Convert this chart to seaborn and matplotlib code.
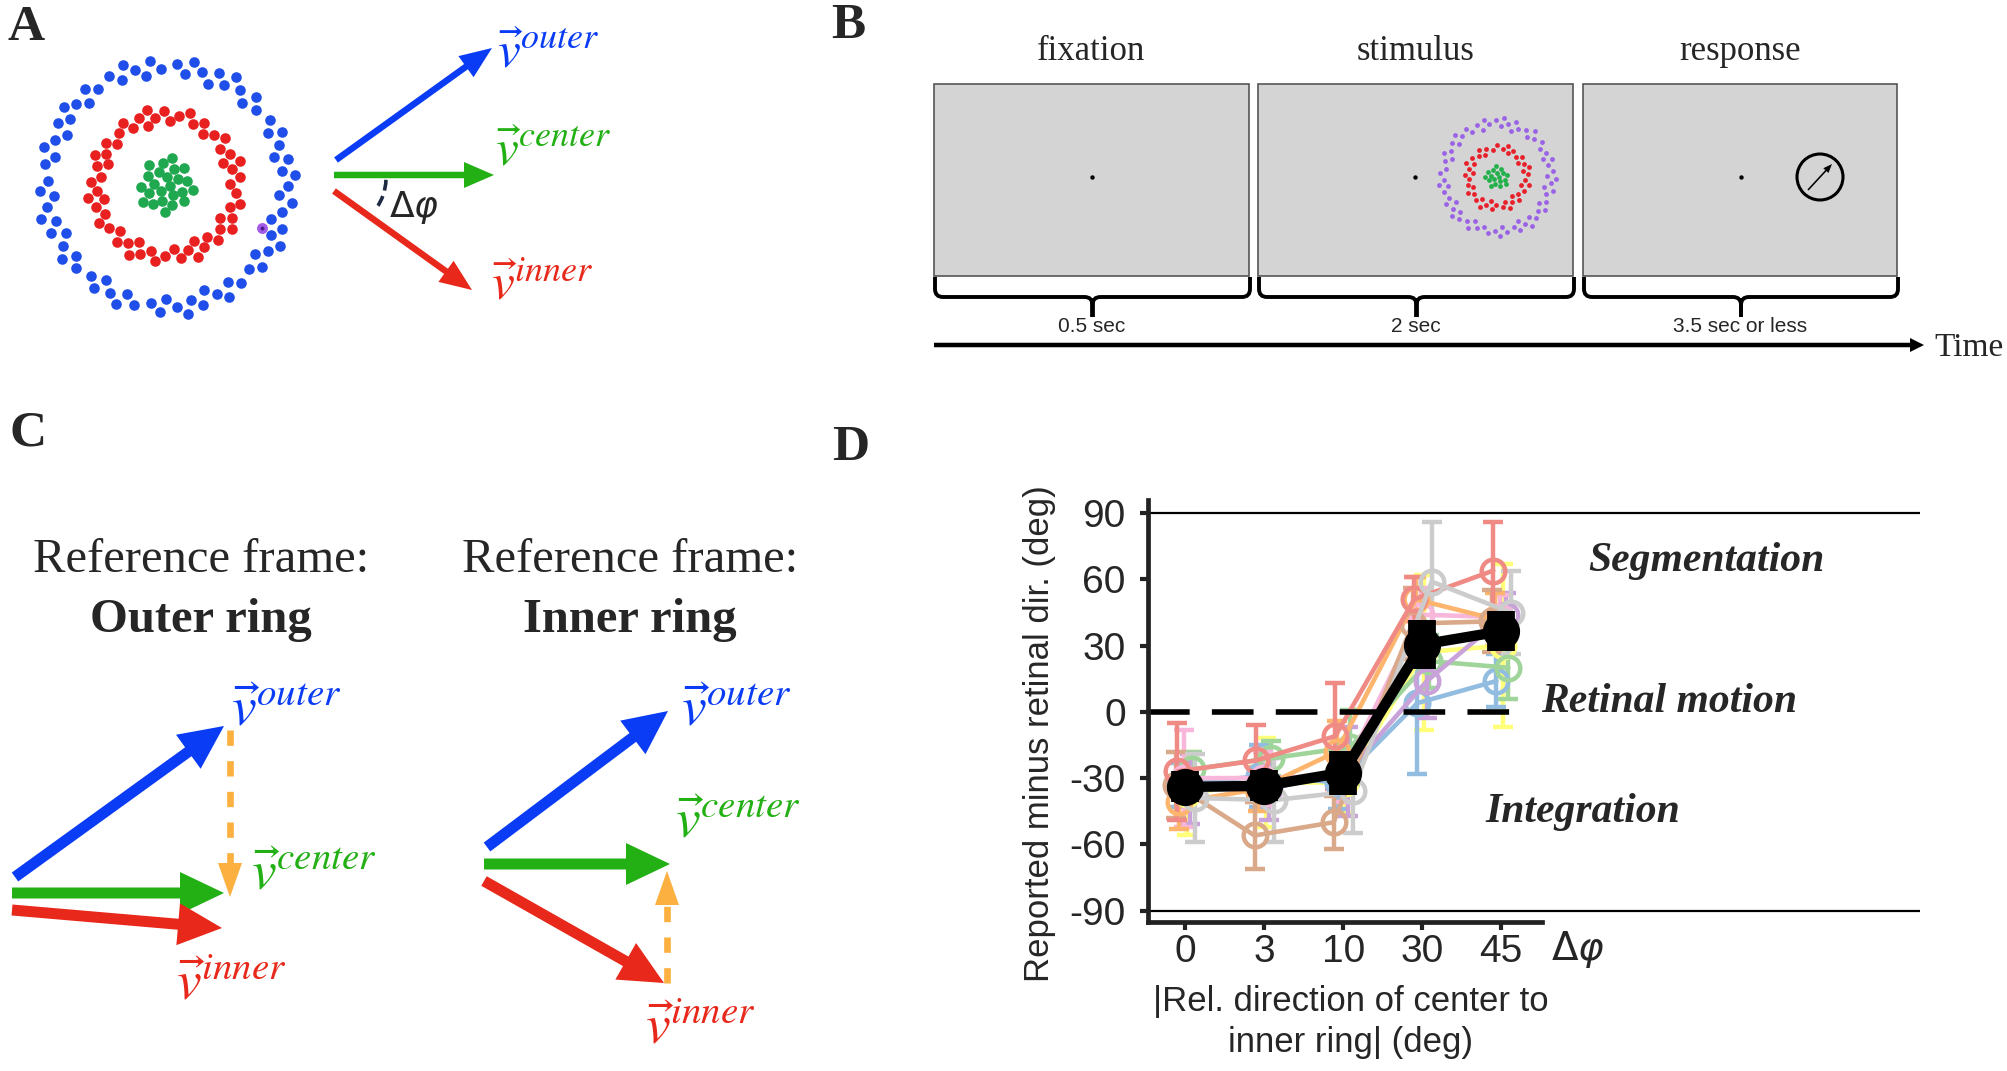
import numpy as np
import pandas as pd
import matplotlib
matplotlib.use('Agg')
import matplotlib.pyplot as plt
import matplotlib.patches as patches
from matplotlib.path import Path
import seaborn as sns

# ---- data for panel D ----
deltas = ['0', '3', '10', '30', '45']
mean_all = [-34, -33.5, -27.5, 30.5, 36.5]
sem_all = [7, 7, 10, 11, 9]

s_tan = [-33, -56, -50, 40, 41]
e_tan = [15, 15, 12, 16, 14]
s_red = [-27, -22, -11, 51, 64]
e_red = [22, 16, 24, 10, 22]
s_orange = [-41, -35, -18, 51, 42]
e_orange = [12, 10, 14, 10, 12]
s_blue = [-33, -29, -32, 4, 14]
e_blue = [10, 14, 12, 32, 12]
s_pink = [-30, -30, -29, 44, 43]
e_pink = [22, 12, 12, 12, 10]
s_yellow = [-37, -32, -32, 27, 30]
e_yellow = [19, 20, 14, 35, 37]
s_purple = [-35, -35, -27, 14, 44]
e_purple = [16, 14, 20, 17, 10]
s_green = [-26, -21, -16, 23, 20]
e_green = [8, 8, 17, 12, 14]
s_gray = [-39, -40, -36, 59, 45]
e_gray = [20, 19, 19, 27, 19]

# ---- text of the diagrams ----
phase_titles = ['fixation', 'stimulus', 'response']
phase_durations = ['0.5 sec', '2 sec', '3.5 sec or less']
regime_labels = ['Segmentation', 'Retinal motion', 'Integration']

sns.set_style('ticks')
plt.rcParams['font.family'] = ['Liberation Sans', 'DejaVu Sans']
plt.rcParams['mathtext.fontset'] = 'stix'
SERIF = ['Liberation Serif', 'DejaVu Serif']

BLUE, GREEN, RED, ORANGE = '#0A3CF5', '#22B014', '#E8281A', '#FBB040'

W, H = 2008, 1071
fig = plt.figure(figsize=(W / 100, H / 100), dpi=100)
bg = fig.add_axes([0, 0, 1, 1])
bg.set_xlim(0, W)
bg.set_ylim(H, 0)
bg.axis('off')


def arrow(ax, p0, p1, color, w, hw, hl):
    ax.arrow(p0[0], p0[1], p1[0] - p0[0], p1[1] - p0[1], width=w, head_width=hw,
             head_length=hl, length_includes_head=True, color=color, lw=0)


def dashed_arrow(ax, p0, p1, color, lw, hw, hl):
    p0, p1 = np.array(p0, float), np.array(p1, float)
    d = (p1 - p0) / np.linalg.norm(p1 - p0)
    n = np.array([-d[1], d[0]])
    base = p1 - d * hl
    ax.plot([p0[0], base[0]], [p0[1], base[1]], color=color, lw=lw,
            ls=(0, (2.3, 2.3)), solid_capstyle='butt')
    ax.add_patch(patches.Polygon([p1, base + n * hw / 2, base - n * hw / 2],
                                 closed=True, color=color, lw=0))


def ring_xy(n, r_in, r_out, phase):
    i = np.arange(n)
    r = np.sqrt(r_in ** 2 + (r_out ** 2 - r_in ** 2) * (i + 0.5) / n)
    t = i * 2.39996 + phase
    return r * np.cos(t), r * np.sin(t)


def brace(ax, x0, x1, y0, yb, yt, r=8):
    xc = (x0 + x1) / 2
    verts, codes = [], []
    for xs, sg in ((x0, 1), (x1, -1)):
        verts += [(xs, y0), (xs, yb - r), (xs, yb), (xs + sg * r, yb),
                  (xc - sg * r, yb), (xc, yb), (xc, yb + r), (xc, yt)]
        codes += [Path.MOVETO, Path.LINETO, Path.CURVE3, Path.CURVE3,
                  Path.LINETO, Path.CURVE3, Path.CURVE3, Path.LINETO]
    ax.add_patch(patches.PathPatch(Path(verts, codes), fill=False, lw=2.8,
                                   edgecolor='black'))


# panel letters
for lab, x, y in [('A', 8, 28), ('B', 831, 26), ('C', 10, 433), ('D', 832, 448)]:
    bg.text(x, y, lab, family=SERIF, weight='bold', size=37, ha='left', va='center')

# ---- Panel A ----
cx, cy = 166, 186
for (n, r0, r1, ph), col in [((82, 110, 130, 0.3), '#1F4FE8'),
                             ((62, 61, 79, 1.1), '#E82020'),
                             ((24, 0, 29, 0.0), '#1FA84F')]:
    dx, dy = ring_xy(n, r0, r1, ph)
    bg.scatter(cx + dx, cy + dy, s=58, color=col, lw=0)
bg.scatter([262], [228], s=62, color='#A35BE8', lw=0)
bg.scatter([262], [228], s=8, color='#4B1E8E', lw=0)

arrow(bg, (336, 160), (492, 48), BLUE, 6.5, 26, 32)
arrow(bg, (334, 175), (494, 175), GREEN, 6.5, 26, 30)
arrow(bg, (334, 191), (472, 290), RED, 6.5, 26, 32)
bg.text(548, 54, r'$\vec{v}^{outer}$', color=BLUE, size=37, ha='center', va='center')
bg.text(553, 152, r'$\vec{v}^{center}$', color=GREEN, size=37, ha='center', va='center')
bg.text(542, 286, r'$\vec{v}^{inner}$', color=RED, size=37, ha='center', va='center')
bg.add_patch(patches.Arc((334, 178), 104, 104, theta1=2, theta2=36,
                         ls=(0, (3, 1.6)), lw=2.6, color='#1E2A44'))
bg.text(414, 207, r'$\Delta\varphi$', size=26, math_fontfamily='dejavusans',
        ha='center', va='center')

# ---- Panel B ----
boxes = [(934, 1249), (1258, 1573), (1583, 1897)]
for (x0, x1), title, dur in zip(boxes, phase_titles, phase_durations):
    bg.add_patch(patches.Rectangle((x0, 84), x1 - x0, 192, facecolor='#D4D4D4',
                                   edgecolor='#555555', lw=1.2))
    xc = (x0 + x1) / 2
    bg.text(xc, 52, title, family=SERIF, size=25, ha='center', va='center')
    brace(bg, x0 + 1, x1 + 1, 277, 297, 317)
    bg.text(xc, 327, dur, size=15, ha='center', va='center')
for xc in [1092, 1415, 1741]:
    bg.scatter([xc], [177], s=10, color='black', lw=0)

scx, scy = 1497, 177
for (n, r0, r1, ph), col in [((72, 48, 60, 0.2), '#9A63E6'),
                             ((46, 24, 34, 0.9), '#E8202A'),
                             ((18, 0, 12, 0.0), '#22B04B')]:
    dx, dy = ring_xy(n, r0, r1, ph)
    bg.scatter(scx + dx, scy + dy, s=12, color=col, lw=0)
bg.add_patch(patches.Circle((1820, 177), 23, fill=False, lw=2.2, edgecolor='black'))
arrow(bg, (1808, 190), (1832, 164), 'black', 1.6, 7, 9)

arrow(bg, (934, 345), (1924, 345), 'black', 4.5, 14, 14)
bg.text(1934, 348, 'Time', family=SERIF, size=24, ha='left', va='center')

# ---- Panel C ----
for xc, ring in [(201, 'Outer ring'), (630, 'Inner ring')]:
    bg.text(xc, 560, 'Reference frame:', family=SERIF, size=35, ha='center', va='center')
    bg.text(xc, 620, ring, family=SERIF, weight='bold', size=35, ha='center', va='center')

arrow(bg, (15, 877), (224, 726), BLUE, 11, 42, 44)
arrow(bg, (12, 893), (224, 893), GREEN, 11, 42, 44)
arrow(bg, (12, 910), (222, 928), RED, 11, 42, 44)
dashed_arrow(bg, (230, 730), (230, 897), ORANGE, 4.8, 24, 34)
bg.text(286, 711, r'$\vec{v}^{outer}$', color=BLUE, size=40, ha='center', va='center')
bg.text(314, 875, r'$\vec{v}^{center}$', color=GREEN, size=40, ha='center', va='center')
bg.text(231, 985, r'$\vec{v}^{inner}$', color=RED, size=40, ha='center', va='center')

arrow(bg, (487, 847), (668, 711), BLUE, 11, 42, 44)
arrow(bg, (484, 864), (670, 864), GREEN, 11, 42, 44)
arrow(bg, (484, 881), (664, 983), RED, 11, 42, 44)
dashed_arrow(bg, (667, 983), (667, 871), ORANGE, 4.8, 24, 34)
bg.text(736, 711, r'$\vec{v}^{outer}$', color=BLUE, size=40, ha='center', va='center')
bg.text(738, 823, r'$\vec{v}^{center}$', color=GREEN, size=40, ha='center', va='center')
bg.text(700, 1030, r'$\vec{v}^{inner}$', color=RED, size=40, ha='center', va='center')

# ---- Panel D ----
ax = fig.add_axes([0.5717, 0.1395, 0.3845, 0.3937])
ax.patch.set_alpha(0)
ax.set_xlim(-0.47, 9.3)
ax.set_ylim(-95, 96)

pos = np.arange(len(deltas))
subjects = [
    (s_yellow, e_yellow, '#FFFF7A', 0.02),
    (s_blue, e_blue, '#93BDE0', -0.06),
    (s_green, e_green, '#9FD49A', 0.09),
    (s_purple, e_purple, '#C8A2D8', 0.06),
    (s_pink, e_pink, '#F7B6DA', -0.02),
    (s_orange, e_orange, '#FDB46C', -0.08),
    (s_tan, e_tan, '#D9A98A', -0.12),
    (s_red, e_red, '#F08A84', -0.10),
    (s_gray, e_gray, '#CCCCCC', 0.12),
]
for vals, errs, col, off in subjects:
    ax.errorbar(pos + off, vals, yerr=errs, color=col, marker='o', mfc='none',
                ms=17, mew=3.2, lw=3.3, elinewidth=3.2, capsize=7.5, capthick=3.6,
                zorder=2)

ax.plot([-0.47, 4.17], [0, 0], color='black', lw=4, ls=(0, (7.5, 4)), zorder=2.5)
ax.axhline(90, color='black', lw=1.6, zorder=1)
ax.axhline(-90, color='black', lw=1.6, zorder=1)

ax.errorbar(pos, mean_all, yerr=sem_all, fmt='none', ecolor='black',
            elinewidth=20, capsize=0, zorder=5)
df_mean = pd.DataFrame({'pos': pos, 'mean': mean_all})
sns.lineplot(data=df_mean, x='pos', y='mean', color='black', lw=7.5, marker='o',
             markersize=26, markeredgecolor='black', ax=ax, zorder=6)

ax.set_xticks(pos)
ax.set_xticklabels(deltas)
ax.set_yticks([-90, -60, -30, 0, 30, 60, 90])
ax.set_yticklabels(['-90', '-60', '-30', '0', '30', '60', '90'])
ax.set_xlabel('')
ax.set_ylabel('')
ax.tick_params(axis='both', width=3, length=6, labelsize=28, color='#222222')
ax.tick_params(axis='x', pad=3)
ax.tick_params(axis='y', pad=10)
for side in ['top', 'right']:
    ax.spines[side].set_visible(False)
for side in ['left', 'bottom']:
    ax.spines[side].set_linewidth(3.4)
    ax.spines[side].set_color('#222222')
ax.spines['bottom'].set_bounds(-0.47, 4.52)

bg.text(1040, 734, 'Reported minus retinal dir. (deg)', rotation=90, size=25,
        ha='center', va='center')
bg.text(1351, 1022, '|Rel. direction of center to\ninner ring| (deg)', size=25,
        ha='center', va='center', linespacing=1.3)
bg.text(1578, 949, r'$\Delta\varphi$', size=28, math_fontfamily='dejavusans',
        ha='center', va='center')
for lab, (x, y) in zip(regime_labels, [(1706, 561), (1669, 702), (1583, 812)]):
    bg.text(x, y, lab, family=SERIF, weight='bold', style='italic', size=30,
            ha='center', va='center')

fig.savefig('out.png', dpi=100)
